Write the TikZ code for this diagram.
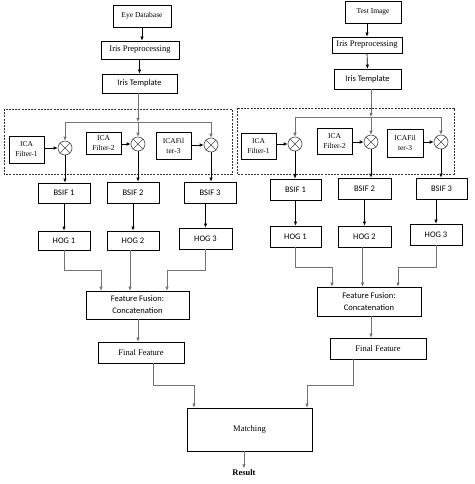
\documentclass[tikz,border=0pt]{standalone}
\usepackage{fontspec}
\setmainfont{Liberation Serif}
\newfontfamily\calibri{Carlito}
\usetikzlibrary{positioning,arrows.meta}

\begin{document}
\begin{tikzpicture}[x=1pt, y=-1pt, >={Latex[length=4pt,width=3.5pt]},
    serifnode/.style={rectangle, draw=black, line width=0.7pt, inner sep=1pt, align=center, font=\fontsize{7.5}{10}\selectfont},
    bigserifnode/.style={serifnode, font=\fontsize{8.5}{10}\selectfont},
    sansnode/.style={rectangle, draw=black, line width=0.7pt, inner sep=1pt, align=center, font=\calibri\fontsize{8.5}{12}\selectfont},
    mixnode/.style={circle, draw=black!70, line width=0.6pt, minimum size=14pt, inner sep=0pt},
    grayline/.style={draw=black!55, line width=0.6pt},
    blackline/.style={draw=black, line width=0.7pt},
    frame/.style={draw=black!80, line width=0.7pt, dash pattern=on 2pt off 1.2pt},
    ]
    \useasboundingbox (0,0) rectangle (474,484);
    %Nodes, left branch
    \node[serifnode, minimum width=58pt, minimum height=22pt] (eyedb) at (142,16) {Eye Database};
    \node[bigserifnode, minimum width=78pt, minimum height=18pt] (prepL) at (140,50) {Iris Preprocessing};
    \node[sansnode, minimum width=75pt, minimum height=19pt] (tmplL) at (139.5,83.5) {Iris Template};
    \node[serifnode, minimum width=35pt, minimum height=27pt] (icaL1) at (26.5,149.5) {ICA\\Filter-1};
    \node[serifnode, minimum width=35pt, minimum height=22pt] (icaL2) at (103.5,143) {ICA\\Filter-2};
    \node[serifnode, minimum width=35pt, minimum height=27pt] (icaL3) at (173.5,145.5) {ICAFil\\ter-3};
    \node[mixnode] (mixL1) at (65,148) {};
    \node[mixnode] (mixL2) at (138,144) {};
    \node[mixnode] (mixL3) at (211,145) {};
    \node[sansnode, minimum width=52pt, minimum height=20pt] (bsifL1) at (64,193) {BSIF 1};
    \node[sansnode, minimum width=52pt, minimum height=21pt] (bsifL2) at (133,192.5) {BSIF 2};
    \node[sansnode, minimum width=52pt, minimum height=21pt] (bsifL3) at (210,192.5) {BSIF 3};
    \node[sansnode, minimum width=52pt, minimum height=19pt] (hogL1) at (64,240.5) {HOG 1};
    \node[sansnode, minimum width=52pt, minimum height=19pt] (hogL2) at (133,240.5) {HOG 2};
    \node[sansnode, minimum width=53pt, minimum height=21pt] (hogL3) at (205.5,238.5) {HOG 3};
    \node[sansnode, minimum width=103pt, minimum height=28pt] (fusL) at (137.5,305) {Feature Fusion:\\Concatenation};
    \node[bigserifnode, minimum width=86pt, minimum height=21pt] (finL) at (141,352.5) {Final Feature};

    %Nodes, right branch
    \node[serifnode, minimum width=56pt, minimum height=22pt] (testimg) at (373,12) {Test Image};
    \node[bigserifnode, minimum width=70pt, minimum height=16pt] (prepR) at (367,45) {Iris Preprocessing};
    \node[sansnode, minimum width=67pt, minimum height=20pt] (tmplR) at (367.5,79) {Iris Template};
    \node[serifnode, minimum width=35pt, minimum height=26pt] (icaR1) at (258.5,146) {ICA\\Filter-1};
    \node[serifnode, minimum width=35pt, minimum height=26pt] (icaR2) at (334.5,141) {ICA\\Filter-2};
    \node[serifnode, minimum width=36pt, minimum height=28pt] (icaR3) at (405,143) {ICAFil\\ter-3};
    \node[mixnode] (mixR1) at (295,144) {};
    \node[mixnode] (mixR2) at (371,142) {};
    \node[mixnode] (mixR3) at (441,142) {};
    \node[sansnode, minimum width=51pt, minimum height=21pt] (bsifR1) at (295.5,189.5) {BSIF 1};
    \node[sansnode, minimum width=53pt, minimum height=21pt] (bsifR2) at (364.5,188.5) {BSIF 2};
    \node[sansnode, minimum width=51pt, minimum height=21pt] (bsifR3) at (441.5,188.5) {BSIF 3};
    \node[sansnode, minimum width=51pt, minimum height=21pt] (hogR1) at (295.5,236.5) {HOG 1};
    \node[sansnode, minimum width=53pt, minimum height=21pt] (hogR2) at (364.5,236.5) {HOG 2};
    \node[sansnode, minimum width=52pt, minimum height=21pt] (hogR3) at (436,234.5) {HOG 3};
    \node[sansnode, minimum width=104pt, minimum height=29pt] (fusR) at (369,301.5) {Feature Fusion:\\Concatenation};
    \node[bigserifnode, minimum width=96pt, minimum height=21pt] (finR) at (378,348.5) {Final Feature};

    %Nodes, bottom
    \node[bigserifnode, minimum width=125pt, minimum height=43pt] (match) at (249.5,429.5) {\raisebox{-6pt}{Matching}};
    \node[font=\fontsize{8.5}{10}\selectfont\bfseries, inner sep=1.5pt, below=17pt of match, xshift=-5.5pt] (result) {Result};

    %Dashed frames
    \draw[frame] (4,109) rectangle (232,174);
    \draw[frame] (237,108) rectangle (454,174);

    %Crosses in the mixers
    \foreach \m in {mixL1,mixL2,mixL3,mixR1,mixR2,mixR3}{
        \draw[black!70, line width=0.6pt] (\m.45) -- (\m.225) (\m.135) -- (\m.315);
    }

    %Junction points
    \coordinate (busL) at (138,122);
    \coordinate (busR) at (371,117);
    \coordinate (jL1) at (101,270);
    \coordinate (jL3) at (167,270);
    \coordinate (jR1) at (332,267);
    \coordinate (jR3) at (398,267);
    \coordinate (jmL) at (194,385);
    \coordinate (jmR) at (307,385);

    %Lines, left branch
    \draw[->, blackline] (eyedb.south) -- (eyedb.south |- prepL.north);
    \draw[->, blackline] (prepL.south -| tmplL.north) -- (tmplL.north);
    \draw[->, grayline] (tmplL.south -| busL) -- (busL);
    \draw[->, grayline] (busL) -- (mixL2.north);
    \draw[->, grayline] (busL) -| (mixL1.north);
    \draw[->, grayline] (busL) -| (mixL3.north);
    \draw[->, blackline] (icaL1.east |- mixL1) -- (mixL1.west);
    \draw[->, blackline] (icaL2.east |- mixL2) -- (mixL2.west);
    \draw[->, blackline] (icaL3.east |- mixL3) -- (mixL3.west);
    \draw[->, blackline] (mixL1.south) -- (mixL1.south |- bsifL1.north);
    \draw[->, blackline] (mixL2.south) -- (mixL2.south |- bsifL2.north);
    \draw[->, blackline] (mixL3.south) -- (mixL3.south |- bsifL3.north);
    \draw[->, blackline] (bsifL1.south) -- (hogL1.north);
    \draw[->, blackline] (bsifL2.south) -- (hogL2.north);
    \draw[->, blackline] (hogL3.north |- bsifL3.south) -- (hogL3.north);
    \draw[->, grayline] (hogL1.south) |- (jL1) -- (jL1 |- fusL.north);
    \draw[->, grayline] ([xshift=-3pt]hogL2.south) -- ([xshift=-3pt]hogL2.south |- fusL.north);
    \draw[->, grayline] (hogL3.south) |- (jL3) -- (jL3 |- fusL.north);
    \draw[->, grayline] (fusL.south -| busL) -- (finL.north -| busL);
    \draw[->, grayline] ([xshift=12pt]finL.south) |- (jmL) -- (jmL |- match.north);

    %Lines, right branch
    \draw[->, blackline] (testimg.south -| prepR.north) -- (prepR.north);
    \draw[->, blackline] (prepR.south) -- (tmplR.north);
    \draw[->, grayline] (tmplR.south -| busR) -- (busR);
    \draw[->, grayline] (busR) -- (mixR2.north);
    \draw[->, grayline] (busR) -| (mixR1.north);
    \draw[->, grayline] (busR) -| (mixR3.north);
    \draw[->, blackline] (icaR1.east |- mixR1) -- (mixR1.west);
    \draw[->, blackline] (icaR2.east |- mixR2) -- (mixR2.west);
    \draw[->, blackline] (icaR3.east |- mixR3) -- (mixR3.west);
    \draw[->, blackline] (mixR1.south) -- (mixR1.south |- bsifR1.north);
    \draw[->, blackline] (mixR2.south) -- (mixR2.south |- bsifR2.north);
    \draw[->, blackline] (mixR3.south) -- (mixR3.south |- bsifR3.north);
    \draw[->, blackline] (bsifR1.south) -- (hogR1.north);
    \draw[->, blackline] (bsifR2.south) -- (hogR2.north);
    \draw[->, blackline] (hogR3.north |- bsifR3.south) -- (hogR3.north);
    \draw[->, grayline] (hogR1.south) |- (jR1) -- (jR1 |- fusR.north);
    \draw[->, grayline] ([xshift=-2pt]hogR2.south) -- ([xshift=-2pt]hogR2.south |- fusR.north);
    \draw[->, grayline] (hogR3.south) |- (jR3) -- (jR3 |- fusR.north);
    \draw[->, grayline] (fusR.south -| busR) -- (finR.north -| busR);
    \draw[->, grayline] ([xshift=-25pt]finR.south) |- (jmR) -- (jmR |- match.north);

    %Result
    \draw[->, grayline] (match.south -| result) -- (result.north);
\end{tikzpicture}
\end{document}
